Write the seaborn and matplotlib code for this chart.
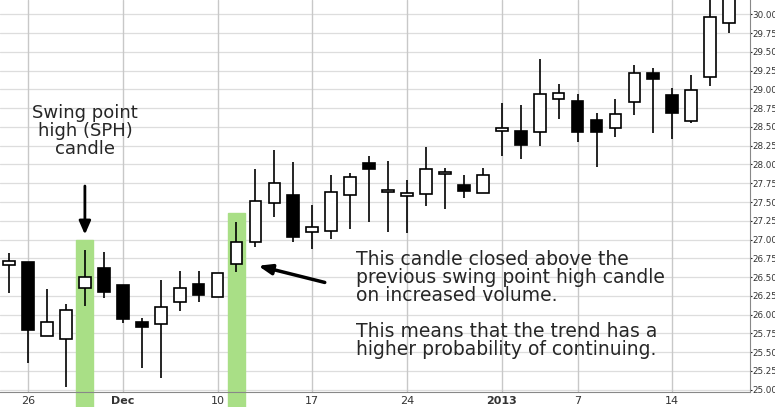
import matplotlib
matplotlib.use('Agg')
import numpy as np
import pandas as pd
import seaborn as sns
from matplotlib import pyplot as plt
from matplotlib.patches import Rectangle

sns.set_style('white')

# candle data
opens = [26.66, 26.70, 25.72, 25.68, 26.36, 26.62, 26.40, 25.90, 25.88, 26.17, 26.41, 26.24, 26.68,
         26.97, 27.49, 27.59, 27.10, 27.11, 27.59, 28.02, 27.63, 27.58, 27.61, 27.87, 27.73, 27.62,
         28.44, 28.44, 28.43, 28.87, 28.84, 28.59, 28.48, 28.83, 29.22, 28.92, 28.58, 29.16, 29.89]
closes = [26.72, 25.80, 25.90, 26.06, 26.50, 26.30, 25.94, 25.84, 26.10, 26.36, 26.26, 26.56, 26.97,
          27.51, 27.75, 27.03, 27.17, 27.63, 27.83, 27.94, 27.63, 27.62, 27.94, 27.90, 27.65, 27.86,
          28.48, 28.26, 28.94, 28.95, 28.43, 28.43, 28.67, 29.22, 29.14, 28.68, 28.99, 29.96, 30.35]
highs = [26.82, 26.70, 26.34, 26.14, 26.86, 26.84, 26.40, 25.96, 26.46, 26.58, 26.58, 26.56, 27.23,
         27.94, 28.19, 28.03, 27.46, 27.86, 27.89, 28.11, 28.05, 27.79, 28.23, 27.95, 27.86, 27.95,
         28.82, 28.79, 29.40, 29.07, 28.94, 28.68, 28.87, 29.32, 29.28, 29.02, 29.19, 30.30, 30.45]
lows = [26.29, 25.35, 25.72, 25.04, 26.12, 26.22, 25.89, 25.29, 25.16, 26.05, 26.17, 26.24, 26.57,
        26.90, 27.30, 26.97, 26.87, 27.01, 27.14, 27.23, 27.10, 27.09, 27.45, 27.41, 27.55, 27.62,
        28.11, 28.07, 28.24, 28.60, 28.30, 27.97, 28.36, 28.66, 28.42, 28.34, 28.55, 29.04, 29.75]
date_pos = [1, 6, 11, 16, 21, 26, 30, 35]
date_labels = ['26', 'Dec', '10', '17', '24', '2013', '7', '14']
highlight = [4, 12]

df = pd.DataFrame({'i': np.arange(len(opens)), 'open': opens, 'close': closes,
                   'high': highs, 'low': lows})

fig = plt.figure(figsize=(7.75, 4.07), dpi=100)
ax = fig.add_axes([0, 15 / 407, 750 / 775, 392 / 407])
ymin, ymax = 24.97, 30.19
ax.set_xlim(-0.48, 39.1)
ax.set_ylim(ymin, ymax)

# grid
for y in np.arange(25, 30.01, 0.25):
    ax.axhline(y, color='#dddddd', lw=0.9, zorder=0)
for x in date_pos:
    ax.axvline(x, color='#c8c8c8', lw=1.0, zorder=0)

# green highlights
for h in highlight:
    top = 26.99 if h == 4 else 27.35
    ax.add_patch(Rectangle((h - 0.45, ymin - 0.3), 0.9, top - ymin + 0.3,
                           color='#a9df86', zorder=1, clip_on=False))

# wicks and bodies
sns.despine(ax=ax, left=True, top=True, right=False, bottom=False)
ax.vlines(df['i'], df['low'], df['high'], color='black', lw=1.2, zorder=2)
w = 0.62
for _, r in df.iterrows():
    lo = min(r['open'], r['close'])
    hgt = max(abs(r['close'] - r['open']), 0.03)
    face = 'white' if r['close'] >= r['open'] else 'black'
    ax.add_patch(Rectangle((r['i'] - w / 2, lo), w, hgt, facecolor=face,
                           edgecolor='black', lw=1.2, zorder=3))

ax.yaxis.tick_right()
ax.set_yticks(np.arange(25, 30.01, 0.25))
ax.set_yticklabels([f'{v:.2f}' for v in np.arange(25, 30.01, 0.25)], fontsize=6.3, color='#333333')
ax.set_xticks(date_pos)
ax.set_xticklabels(date_labels, fontsize=8, color='#333333')
for lab in ax.get_xticklabels():
    if lab.get_text() in ('Dec', '2013'):
        lab.set_fontweight('bold')
ax.set_xticks(df['i'], minor=True)
ax.tick_params(axis='y', length=1.5, pad=0.5)
ax.tick_params(axis='x', length=2, pad=1)
ax.tick_params(axis='x', which='minor', length=2)
for s in ('right', 'bottom'):
    ax.spines[s].set_color('#888888')
    ax.spines[s].set_linestyle((0, (1, 1)))

# annotations
ax.text(4, 28.45, 'Swing point\nhigh (SPH)\ncandle', ha='center', va='center', fontsize=13,
        linespacing=1.0)
ax.annotate('', xy=(13.0, 26.66), xytext=(16.8, 26.42),
            arrowprops=dict(arrowstyle='-|>,head_width=0.3,head_length=0.8', color='black', lw=2.5))
ax.annotate('', xy=(4, 27.03), xytext=(4, 27.75),
            arrowprops=dict(arrowstyle='-|>,head_width=0.35,head_length=0.8', color='black', lw=2))
ax.text(18.3, 26.86, 'This candle closed above the\nprevious swing point high candle\non increased volume.\n\n'
        'This means that the trend has a\nhigher probability of continuing.',
        ha='left', va='top', fontsize=13.5, linespacing=0.93)

fig.savefig('out.png', dpi=100)
